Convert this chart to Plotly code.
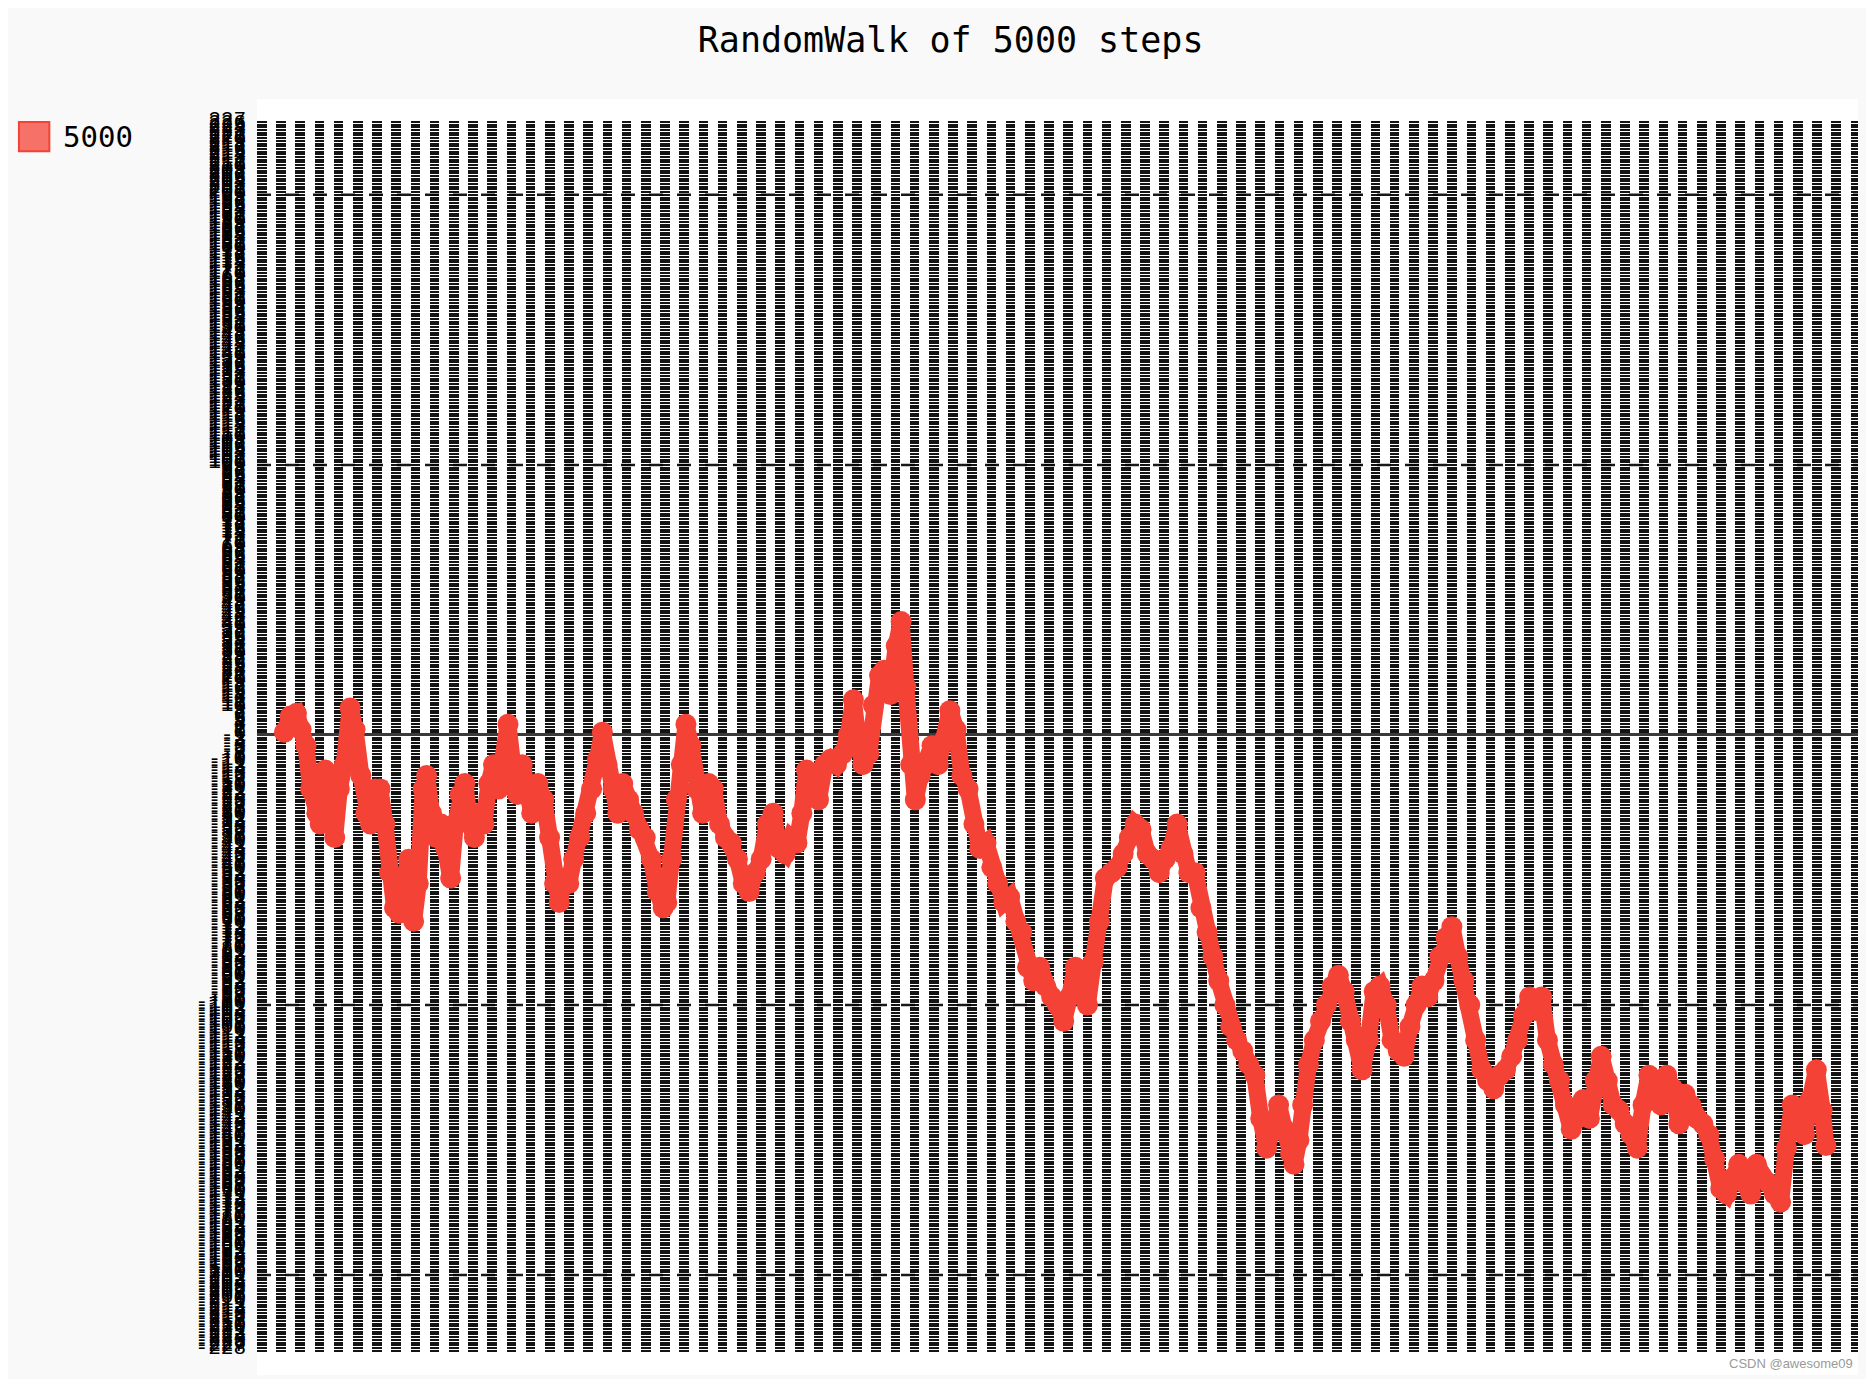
import plotly.graph_objects as go

# ---- data ----
steps = [0, 19, 39, 54, 70, 85, 105, 116, 132, 147, 163, 178, 194, 213, 229, 248, 264, 279, 295, 310,
         326, 341, 357, 372, 388, 403, 419, 434, 450, 461, 477, 492, 508, 523, 539, 554, 570, 585, 601, 616,
         632, 647, 663, 678, 694, 709, 725, 740, 756, 771, 787, 802, 822, 841, 860, 876, 891, 907, 922, 938,
         957, 977, 996, 1015, 1031, 1046, 1066, 1081, 1097, 1116, 1132, 1151, 1170, 1190, 1209, 1228, 1240, 1256, 1271, 1287,
         1302, 1318, 1337, 1356, 1376, 1391, 1411, 1430, 1449, 1469, 1488, 1507, 1527, 1546, 1566, 1585, 1604, 1624, 1643, 1662,
         1678, 1693, 1713, 1732, 1752, 1771, 1790, 1810, 1829, 1845, 1860, 1876, 1895, 1910, 1930, 1945, 1965, 1984, 2000, 2015,
         2031, 2046, 2062, 2081, 2100, 2120, 2139, 2158, 2178, 2197, 2217, 2236, 2255, 2275, 2294, 2313, 2333, 2352, 2372, 2391,
         2410, 2430, 2449, 2468, 2488, 2507, 2527, 2546, 2565, 2585, 2604, 2623, 2643, 2662, 2682, 2701, 2720, 2740, 2759, 2778,
         2798, 2817, 2837, 2856, 2875, 2895, 2914, 2933, 2953, 2972, 2992, 3011, 3030, 3050, 3069, 3088, 3108, 3127, 3147, 3166,
         3185, 3205, 3224, 3243, 3263, 3274, 3290, 3302, 3321, 3340, 3360, 3379, 3398, 3418, 3437, 3457, 3476, 3495, 3515, 3534,
         3553, 3573, 3592, 3612, 3631, 3650, 3670, 3689, 3708, 3728, 3747, 3767, 3786, 3805, 3825, 3844, 3863, 3883, 3902, 3922,
         3941, 3960, 3980, 3999, 4018, 4038, 4057, 4077, 4096, 4115, 4135, 4154, 4173, 4193, 4212, 4232, 4251, 4270, 4290, 4309,
         4328, 4348, 4367, 4387, 4406, 4425, 4445, 4464, 4483, 4503, 4522, 4542, 4561, 4580, 4600, 4619, 4638, 4658, 4677, 4697,
         4716, 4735, 4755, 4774, 4793, 4813, 4832, 4852, 4871, 4890, 4910, 4929, 4948, 4968, 4987, 4999]

walk = [1, 7, 8, 2, -4, -20, -29, -33, -13, -29, -38, -20, -11, 10, 2, -15, -29, -33, -20, -20,
        -33, -51, -64, -66, -58, -46, -69, -55, -20, -15, -29, -38, -33, -42, -53, -33, -22, -18, -33, -38,
        -29, -33, -18, -11, -20, -11, 4, -11, -22, -11, -20, -29, -18, -24, -38, -55, -62, -53, -55, -46,
        -38, -29, -20, -9, 1, -11, -20, -29, -18, -24, -29, -35, -38, -46, -58, -64, -62, -46, -24, -11,
        4, -4, -20, -29, -18, -20, -33, -38, -40, -46, -55, -58, -51, -46, -33, -29, -42, -44, -38, -40,
        -29, -13, -15, -24, -11, -9, -11, -7, 0, 13, -2, -11, -7, 11, 22, 24, 15, 33, 42, 18,
        -11, -24, -15, -11, -4, -11, -2, 9, 2, -15, -20, -33, -42, -40, -49, -55, -62, -60, -69, -73,
        -86, -91, -86, -93, -97, -100, -106, -97, -86, -95, -100, -84, -69, -53, -51, -49, -44, -38, -33, -35,
        -44, -46, -51, -46, -42, -33, -44, -51, -51, -64, -73, -82, -91, -100, -108, -113, -117, -122, -126, -142,
        -153, -146, -137, -146, -155, -159, -150, -137, -122, -113, -106, -100, -93, -89, -95, -106, -113, -124, -113, -95,
        -93, -100, -113, -117, -119, -108, -100, -93, -97, -91, -82, -75, -71, -82, -91, -100, -113, -124, -128, -131,
        -126, -124, -119, -113, -104, -97, -102, -97, -113, -122, -128, -137, -146, -142, -135, -142, -128, -119, -128, -137,
        -139, -144, -148, -153, -137, -126, -133, -137, -126, -131, -144, -133, -137, -142, -144, -148, -157, -168, -170, -164,
        -159, -166, -170, -159, -164, -166, -170, -173, -153, -137, -142, -148, -135, -124, -139, -152]

series_name = "5000"
title_text = "RandomWalk of 5000 steps"
y_tick_values = list(range(-228, 228))
major_guides = [-200, -100, 100, 200]
y_range = [-237, 235.5]
x_range = [-89, 5103]

RED = "#F44336"
FONT = "DejaVu Sans Mono, Liberation Mono, monospace"
TICK_FONT = "Liberation Mono, DejaVu Sans Mono, monospace"

fig = go.Figure()
fig.add_trace(go.Scatter(
    x=steps, y=walk, mode="lines+markers", name=series_name,
    line=dict(color=RED, width=17),
    marker=dict(color=RED, size=21),
    showlegend=False,
))

shapes = []
for v in major_guides:
    shapes.append(dict(type="line", xref="paper", yref="y", x0=0, x1=1, y0=v, y1=v,
                       line=dict(color="rgba(0,0,0,0.9)", width=2.5, dash="14px,14px"),
                       layer="below"))
# legend square (pygal-style legend swatch)
shapes.append(dict(type="rect", xref="paper", yref="paper",
                   x0=-0.1487, x1=-0.1297, y0=0.982, y1=0.959,
                   fillcolor="rgba(244,67,54,0.75)", line=dict(color=RED, width=2)))

fig.update_layout(
    width=1874, height=1379,
    paper_bgcolor="#f9f9f9", plot_bgcolor="#ffffff",
    margin=dict(l=249, r=24, t=91, b=12),
    title=dict(text=title_text, x=0.503, xanchor="center", y=0.977, yanchor="middle",
               font=dict(family=FONT, size=35, color="#000000")),
    font=dict(family=FONT, color="#000000"),
    showlegend=False,
    shapes=shapes,
    annotations=[
        dict(text=series_name, xref="paper", yref="paper", x=-0.1225, y=0.970,
             xanchor="left", yanchor="middle", showarrow=False,
             font=dict(family=FONT, size=29, color="#000000")),
        dict(text="CSDN @awesome09", xref="paper", yref="paper", x=1.0, y=0.0,
             xanchor="right", yanchor="middle", xshift=-3, yshift=12, showarrow=False,
             font=dict(family="Liberation Sans, Arial, sans-serif", size=13, color="#9a9a9a")),
    ],
)
fig.update_xaxes(range=x_range, showgrid=False, zeroline=False, showticklabels=False,
                 showline=False, ticks="")
fig.update_yaxes(range=y_range, tickmode="array", tickvals=y_tick_values,
                 ticktext=[str(v) for v in y_tick_values],
                 showgrid=True, gridcolor="rgba(0,0,0,0.92)", gridwidth=2.2, griddash="9.6px,9.6px",
                 zeroline=True, zerolinecolor="#3a3a3a", zerolinewidth=3,
                 ticks="", showline=False, ticklabelstandoff=10, ticklabelshift=-4,
                 tickfont=dict(family=TICK_FONT, size=21, color="#000000"))

fig.write_html("out.html")
